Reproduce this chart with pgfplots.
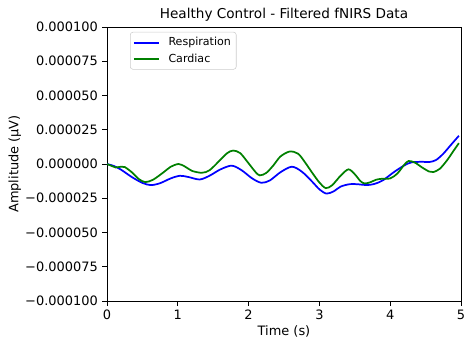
\documentclass[border=0pt]{standalone}
\usepackage{pgfplots}
\pgfplotsset{compat=1.18}
\usepackage{fontspec}
\setmainfont{DejaVu Sans}
\definecolor{mplgreen}{RGB}{0,128,0}
\begin{document}
\fontsize{9.7}{11.5}\selectfont
\begin{tikzpicture}
\begin{axis}[
  scale only axis,
  width=265.5pt, height=205.5pt,
  xmin=0, xmax=5, ymin=-0.0001, ymax=0.0001,
  xtick={0,1,2,3,4,5},
  ytick={-0.0001,-0.000075,-0.00005,-0.000025,0,0.000025,0.00005,0.000075,0.0001},
  yticklabels={−0.000100,−0.000075,−0.000050,−0.000025,0.000000,0.000025,0.000050,0.000075,0.000100},
  scaled y ticks=false,
  /pgf/number format/assume math mode=true,
  tick align=outside, tick pos=left,
  major tick length=3.5pt,
  tick style={black, line width=0.6pt},
  axis line style={line width=0.6pt},
  xlabel={Time (s)}, ylabel={Amplitude (µV)},
  xlabel style={yshift=2.25pt},
  ylabel style={yshift=-3.5pt},
  title={Healthy Control - Filtered fNIRS Data},
  title style={font=\fontsize{10.2}{12}\selectfont, yshift=-5pt},
  legend style={at={(rel axis cs:0.065,0.982)}, anchor=north west, draw=black!20, rounded corners=2pt, font=\fontsize{8.3}{10}\selectfont, row sep=0.3pt, inner sep=2pt},
  legend cell align=left,
  legend image code/.code={\draw[#1, line width=1.5pt] (0cm,0cm) -- (0.66cm,0cm); \path (0.66cm+4.5pt,0cm);},
]
\addplot[blue, line width=1.3pt, smooth, tension=0.5] coordinates {
(0,0) (0.1,-1.5e-6) (0.2,-4.2e-6) (0.35,-9.5e-6) (0.5,-13.8e-6) (0.62,-15.4e-6)
(0.75,-14e-6) (0.9,-10.5e-6) (1.03,-8.6e-6) (1.15,-9.5e-6) (1.31,-11.3e-6)
(1.45,-8.5e-6) (1.6,-4e-6) (1.76,-1.2e-6) (1.9,-4.5e-6) (2.05,-10.5e-6)
(2.18,-13.7e-6) (2.3,-12e-6) (2.45,-6e-6) (2.61,-2.0e-6) (2.75,-5.5e-6)
(2.9,-13e-6) (3.0,-18.5e-6) (3.1,-21.6e-6) (3.2,-20e-6) (3.3,-16.5e-6)
(3.43,-14.7e-6) (3.55,-14.8e-6) (3.67,-15.4e-6) (3.78,-14.5e-6) (3.9,-11.8e-6)
(4.05,-6e-6) (4.2,-1e-6) (4.3,1.2e-6) (4.45,1.6e-6) (4.56,1.5e-6) (4.65,3e-6)
(4.75,7.5e-6) (4.85,13.5e-6) (4.97,20.6e-6)
};
\addlegendentry{Respiration}
\addplot[mplgreen, line width=1.3pt, smooth, tension=0.5] coordinates {
(0,0) (0.07,-1.5e-6) (0.12,-2.5e-6) (0.2,-2.0e-6) (0.25,-2.2e-6) (0.35,-6e-6)
(0.45,-11e-6) (0.54,-13.2e-6) (0.65,-11.5e-6) (0.8,-6e-6) (0.9,-2e-6) (1.01,0)
(1.1,-1.8e-6) (1.2,-5e-6) (1.34,-6.4e-6) (1.45,-4.5e-6) (1.6,3e-6) (1.7,8e-6)
(1.78,9.8e-6) (1.88,8e-6) (2.0,0.5e-6) (2.1,-6e-6) (2.16,-8.3e-6) (2.25,-6.5e-6)
(2.35,-1e-6) (2.45,5.5e-6) (2.58,9.1e-6) (2.7,7.5e-6) (2.8,1e-6) (2.9,-6.5e-6)
(3.0,-13.5e-6) (3.09,-17.6e-6) (3.18,-15.5e-6) (3.3,-8.5e-6) (3.41,-3.9e-6)
(3.5,-7.5e-6) (3.58,-12.5e-6) (3.64,-14.2e-6) (3.72,-13.3e-6) (3.8,-11.5e-6)
(3.88,-10.8e-6) (4.0,-10.5e-6) (4.1,-7e-6) (4.2,-0.5e-6) (4.26,2.2e-6)
(4.35,1e-6) (4.45,-2.5e-6) (4.55,-5.5e-6) (4.61,-5.9e-6) (4.7,-3.5e-6)
(4.8,2.5e-6) (4.9,10e-6) (4.97,15.2e-6)
};
\addlegendentry{Cardiac}
\end{axis}
\pgfresetboundingbox
\path[use as bounding box] ([xshift=-80.25pt,yshift=-37.5pt]current axis.south west) rectangle ([xshift=9.75pt,yshift=20.25pt]current axis.north east);
\end{tikzpicture}
\end{document}
